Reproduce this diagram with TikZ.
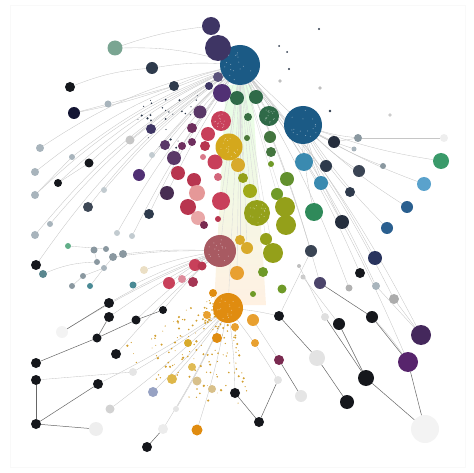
\documentclass[tikz,border=0pt]{standalone}
\usetikzlibrary{backgrounds}

\definecolor{inky}{HTML}{15171C}
\definecolor{navyP}{HTML}{3E3564}
\definecolor{purp}{HTML}{5A3868}
\definecolor{plum}{HTML}{6E2F5E}
\definecolor{crim}{HTML}{C8405A}
\definecolor{rose}{HTML}{B8354F}
\definecolor{pinkL}{HTML}{E59898}
\definecolor{mauve}{HTML}{A85A62}
\definecolor{gold}{HTML}{D4A81C}
\definecolor{mustard}{HTML}{D8AA2A}
\definecolor{olive}{HTML}{94A01A}
\definecolor{moss}{HTML}{6F9A28}
\definecolor{forest}{HTML}{2F6A48}
\definecolor{jade}{HTML}{2F8A5A}
\definecolor{mint}{HTML}{3A9A6A}
\definecolor{blueD}{HTML}{1B5A85}
\definecolor{blueM}{HTML}{3A8AB0}
\definecolor{blueL}{HTML}{5AA2CC}
\definecolor{blueN}{HTML}{2A5F8F}
\definecolor{slate}{HTML}{2E3A4C}
\definecolor{sage}{HTML}{7AA592}
\definecolor{fog}{HTML}{A8B4BC}
\definecolor{steel}{HTML}{8A98A0}
\definecolor{teal}{HTML}{4A8A95}
\definecolor{orng}{HTML}{E08C10}
\definecolor{amber}{HTML}{E8A030}
\definecolor{sand}{HTML}{D8C08A}
\definecolor{ghost}{HTML}{EEEEEE}
\definecolor{eggp}{HTML}{44285C}
\definecolor{wine}{HTML}{7A2A50}

\tikzset{
  dot/.style = {circle, inner sep = 0pt, outer sep = 0pt},
  link/.style = {draw = gray!45, line width = 0.35pt},
  bond/.style = {draw = black!60, line width = 0.5pt},
}

\begin{document}
\begin{tikzpicture}[x = 1pt, y = -1pt]
\useasboundingbox (0,0) rectangle (474,473);
\draw [gray!5, line width = 0.6pt] (10,5) rectangle (465,467);

% hubs
\node [dot, fill = blueD, minimum size = 40] (hub) at (240,65) {};
\node [dot, fill = blueD, minimum size = 38] (hubB) at (303,125) {};

% top
\node [dot, fill = navyP, minimum size = 18] (t1) at (211,26) {};
\node [dot, fill = navyP, minimum size = 26] (t2) at (218,48) {};
\node [dot, fill = sage, minimum size = 15] (t3) at (115,48) {};
\node [dot, fill = slate, minimum size = 12] (t4) at (152,68) {};
\node [dot, fill = inky, minimum size = 10] (t5) at (70,87) {};
\node [dot, fill = slate, minimum size = 10] (t6) at (174,86) {};
\node [dot, fill = fog, minimum size = 7] (t7) at (108,104) {};
\node [dot, fill = inky!90!blue, minimum size = 12] (t8) at (74,113) {};
\node [dot, fill = navyP!85!white, minimum size = 10] (t9) at (218,77) {};
\node [dot, fill = navyP, minimum size = 8] (t10) at (209,86) {};
\node [dot, fill = navyP!90!magenta, minimum size = 18] (t11) at (222,93) {};

% purples and reds
\node [dot, fill = purp, minimum size = 13] (c1) at (200,112) {};
\node [dot, fill = crim, minimum size = 20] (c2) at (221,121) {};
\node [dot, fill = plum, minimum size = 10] (c3) at (192,128) {};
\node [dot, fill = crim, minimum size = 14] (c4) at (208,134) {};
\node [dot, fill = purp, minimum size = 10] (c5) at (165,145) {};
\node [dot, fill = plum, minimum size = 8] (c6) at (182,146) {};
\node [dot, fill = plum, minimum size = 8] (c7) at (192,142) {};
\node [dot, fill = rose, minimum size = 10] (c8) at (205,146) {};
\node [dot, fill = gold, minimum size = 27] (c9) at (229,147) {};
\node [dot, fill = purp, minimum size = 14] (c10) at (174,158) {};
\node [dot, fill = crim, minimum size = 15] (c11) at (215,162) {};
\node [dot, fill = rose, minimum size = 14] (c12) at (178,173) {};
\node [dot, fill = rose, minimum size = 14] (c13) at (194,180) {};
\node [dot, fill = mustard, minimum size = 14] (c14) at (238,165) {};
\node [dot, fill = purp!80!black, minimum size = 14] (c15) at (167,193) {};
\node [dot, fill = pinkL, minimum size = 16] (c16) at (197,193) {};
\node [dot, fill = crim, minimum size = 18] (c17) at (221,201) {};
\node [dot, fill = rose, minimum size = 16] (c18) at (188,207) {};
\node [dot, fill = pinkL!85!white, minimum size = 14] (c19) at (198,218) {};
\node [dot, fill = wine, minimum size = 8] (c20) at (204,225) {};
\node [dot, fill = crim!80!white, minimum size = 8] (c21) at (218,177) {};
\node [dot, fill = crim!70!white, minimum size = 6] (c22) at (203,157) {};
\node [dot, fill = rose, minimum size = 6] (c23) at (218,219) {};

% left outer
\node [dot, fill = navyP, minimum size = 10] (l1) at (151,129) {};
\node [dot, fill = gray!45, minimum size = 9] (l2) at (130,140) {};
\node [dot, fill = fog, minimum size = 8] (l3) at (40,148) {};
\node [dot, fill = fog, minimum size = 6] (l4) at (72,157) {};
\node [dot, fill = fog!70!white, minimum size = 6] (l5) at (152,155) {};
\node [dot, fill = inky, minimum size = 9] (l6) at (89,163) {};
\node [dot, fill = fog, minimum size = 8] (l7) at (35,172) {};
\node [dot, fill = navyP!90!magenta, minimum size = 12] (l8) at (139,175) {};
\node [dot, fill = inky, minimum size = 8] (l9) at (58,183) {};
\node [dot, fill = fog, minimum size = 8] (l10) at (35,195) {};
\node [dot, fill = fog!70!white, minimum size = 6] (l11) at (104,190) {};
\node [dot, fill = slate!80!gray, minimum size = 10] (l12) at (88,207) {};
\node [dot, fill = slate, minimum size = 10] (l13) at (149,214) {};
\node [dot, fill = fog, minimum size = 6] (l14) at (50,224) {};
\node [dot, fill = fog, minimum size = 8] (l15) at (35,235) {};
\node [dot, fill = fog!70!white, minimum size = 6] (l16) at (117,233) {};
\node [dot, fill = fog!70!white, minimum size = 6] (l17) at (132,236) {};

% greens and olives
\node [dot, fill = forest, minimum size = 14] (g1) at (237,98) {};
\node [dot, fill = forest, minimum size = 14] (g2) at (256,97) {};
\node [dot, fill = forest, minimum size = 20] (g3) at (269,116) {};
\node [dot, fill = forest!90!olive, minimum size = 8] (g4) at (248,117) {};
\node [dot, fill = forest!80!olive, minimum size = 12] (g5) at (270,137) {};
\node [dot, fill = forest!70!olive, minimum size = 6] (g6) at (247,138) {};
\node [dot, fill = forest!80!olive, minimum size = 10] (g7) at (271,152) {};
\node [dot, fill = moss, minimum size = 6] (g8) at (271,164) {};
\node [dot, fill = moss!80!forest, minimum size = 14] (g9) at (287,179) {};
\node [dot, fill = olive, minimum size = 10] (g10) at (243,178) {};
\node [dot, fill = olive!90!yellow, minimum size = 14] (g11) at (250,191) {};
\node [dot, fill = moss, minimum size = 12] (g12) at (277,194) {};
\node [dot, fill = olive, minimum size = 20] (g13) at (285,207) {};
\node [dot, fill = olive, minimum size = 26] (g14) at (257,213) {};
\node [dot, fill = olive, minimum size = 20] (g15) at (286,225) {};
\node [dot, fill = jade, minimum size = 18] (g16) at (314,212) {};

% right
\node [dot, fill = slate!80!black, minimum size = 12] (r1) at (334,142) {};
\node [dot, fill = steel, minimum size = 8] (r2) at (358,138) {};
\node [dot, fill = fog, minimum size = 5] (r3) at (354,149) {};
\node [dot, fill = ghost, minimum size = 8] (r4) at (444,138) {};
\node [dot, fill = blueM, minimum size = 18] (r5) at (304,162) {};
\node [dot, fill = slate, minimum size = 12] (r6) at (326,166) {};
\node [dot, fill = slate!85!gray, minimum size = 12] (r7) at (359,171) {};
\node [dot, fill = steel, minimum size = 6] (r8) at (383,166) {};
\node [dot, fill = mint, minimum size = 16] (r9) at (441,161) {};
\node [dot, fill = blueM, minimum size = 14] (r10) at (321,183) {};
\node [dot, fill = slate, minimum size = 10] (r11) at (350,192) {};
\node [dot, fill = blueL, minimum size = 14] (r12) at (424,184) {};
\node [dot, fill = blueN, minimum size = 12] (r13) at (407,207) {};
\node [dot, fill = slate!80!black, minimum size = 14] (r14) at (342,222) {};
\node [dot, fill = blueN, minimum size = 12] (r15) at (387,228) {};

% middle
\node [dot, fill = mauve, minimum size = 32] (m1) at (220,251) {};
\node [dot, fill = mustard, minimum size = 10] (m2) at (240,240) {};
\node [dot, fill = mustard, minimum size = 12] (m3) at (247,248) {};
\node [dot, fill = olive, minimum size = 12] (m4) at (266,239) {};
\node [dot, fill = olive, minimum size = 20] (m5) at (273,253) {};
\node [dot, fill = crim, minimum size = 12] (m6) at (195,265) {};
\node [dot, fill = rose, minimum size = 9] (m7) at (202,266) {};
\node [dot, fill = amber, minimum size = 14] (m8) at (237,273) {};
\node [dot, fill = moss, minimum size = 10] (m9) at (263,272) {};
\node [dot, fill = crim, minimum size = 12] (m10) at (169,283) {};
\node [dot, fill = crim!60!white, minimum size = 8] (m11) at (182,279) {};
\node [dot, fill = rose!80!purp, minimum size = 10] (m12) at (193,282) {};
\node [dot, fill = moss, minimum size = 9] (m13) at (282,289) {};
\node [dot, fill = moss, minimum size = 6] (m14) at (253,294) {};
\node [dot, fill = orng, minimum size = 8] (m15) at (213,293) {};
\node [dot, fill = orng, minimum size = 30] (m16) at (228,308) {};
\node [dot, fill = amber, minimum size = 8] (m17) at (207,315) {};
\node [dot, fill = amber, minimum size = 12] (m18) at (253,320) {};
\node [dot, fill = amber, minimum size = 8] (m19) at (235,327) {};
\node [dot, fill = orng, minimum size = 10] (m20) at (217,338) {};
\node [dot, fill = amber, minimum size = 8] (m21) at (255,343) {};
\node [dot, fill = mustard, minimum size = 8] (m22) at (188,343) {};
\node [dot, fill = mustard!80!white, minimum size = 8] (m23) at (192,367) {};
\node [dot, fill = mustard!85!white, minimum size = 10] (m24) at (172,379) {};
\node [dot, fill = sand, minimum size = 9] (m25) at (197,381) {};
\node [dot, fill = sand, minimum size = 8] (m26) at (212,389) {};
\node [dot, fill = orng, minimum size = 11] (m27) at (197,430) {};
\node [dot, fill = sand!50!white, minimum size = 8] (m28) at (144,270) {};

% lower left
\node [dot, fill = inky, minimum size = 10] (k1) at (36,265) {};
\node [dot, fill = teal!70!gray, minimum size = 8] (k2) at (43,274) {};
\node [dot, fill = mint!80!white, minimum size = 6] (k3) at (68,246) {};
\node [dot, fill = steel, minimum size = 7] (k4) at (94,250) {};
\node [dot, fill = steel, minimum size = 6] (k5) at (106,249) {};
\node [dot, fill = steel, minimum size = 6] (k6) at (97,262) {};
\node [dot, fill = steel, minimum size = 8] (k7) at (113,257) {};
\node [dot, fill = steel, minimum size = 8] (k8) at (123,254) {};
\node [dot, fill = fog, minimum size = 6] (k9) at (104,268) {};
\node [dot, fill = steel, minimum size = 6] (k10) at (83,276) {};
\node [dot, fill = steel, minimum size = 6] (k11) at (72,286) {};
\node [dot, fill = teal, minimum size = 6] (k12) at (90,286) {};
\node [dot, fill = teal, minimum size = 7] (k13) at (133,285) {};
\node [dot, fill = inky, minimum size = 10] (b1) at (109,303) {};
\node [dot, fill = inky, minimum size = 10] (b2) at (109,317) {};
\node [dot, fill = inky, minimum size = 8] (b3) at (163,310) {};
\node [dot, fill = inky, minimum size = 9] (b4) at (136,320) {};
\node [dot, fill = inky, minimum size = 9] (b5) at (97,338) {};
\node [dot, fill = inky, minimum size = 10] (b6) at (116,354) {};
\node [dot, fill = inky, minimum size = 10] (b7) at (36,363) {};
\node [dot, fill = inky, minimum size = 10] (b8) at (36,380) {};
\node [dot, fill = inky, minimum size = 10] (b9) at (98,384) {};
\node [dot, fill = inky, minimum size = 10] (b10) at (36,424) {};
\node [dot, fill = inky, minimum size = 10] (b11) at (147,447) {};
\node [dot, fill = inky, minimum size = 10] (b12) at (235,393) {};
\node [dot, fill = ghost!70!white, minimum size = 12] (f1) at (62,332) {};
\node [dot, fill = gray!20, minimum size = 8] (f2) at (133,372) {};
\node [dot, fill = fog!90!blue, minimum size = 10] (f3) at (153,392) {};
\node [dot, fill = gray!35, minimum size = 9] (f4) at (110,409) {};
\node [dot, fill = ghost, minimum size = 14] (f5) at (96,429) {};
\node [dot, fill = gray!15, minimum size = 10] (f6) at (163,429) {};
\node [dot, fill = gray!20, minimum size = 6] (f7) at (176,409) {};

% lower right
\node [dot, fill = slate!85!gray, minimum size = 12] (d1) at (311,251) {};
\node [dot, fill = slate!90!blue, minimum size = 14] (d2) at (375,258) {};
\node [dot, fill = inky, minimum size = 10] (d3) at (360,273) {};
\node [dot, fill = fog, minimum size = 8] (d4) at (376,286) {};
\node [dot, fill = gray!65, minimum size = 10] (d5) at (394,299) {};
\node [dot, fill = navyP!80!gray, minimum size = 12] (d6) at (320,283) {};
\node [dot, fill = gray!60, minimum size = 7] (d7) at (349,288) {};
\node [dot, fill = gray!50, minimum size = 4] (d8) at (299,266) {};
\node [dot, fill = gray!40, minimum size = 5] (d9) at (303,277) {};
\node [dot, fill = inky, minimum size = 10] (d10) at (279,316) {};
\node [dot, fill = gray!25, minimum size = 8] (d11) at (325,317) {};
\node [dot, fill = inky, minimum size = 12] (d12) at (339,324) {};
\node [dot, fill = inky, minimum size = 12] (d13) at (372,317) {};
\node [dot, fill = eggp, minimum size = 20] (d14) at (421,335) {};
\node [dot, fill = eggp!90!magenta, minimum size = 20] (d15) at (408,362) {};
\node [dot, fill = wine, minimum size = 10] (d16) at (279,360) {};
\node [dot, fill = ghost!90!gray, minimum size = 16] (d17) at (317,358) {};
\node [dot, fill = inky, minimum size = 16] (d18) at (366,378) {};
\node [dot, fill = ghost!90!gray, minimum size = 8] (d19) at (278,380) {};
\node [dot, fill = gray!20, minimum size = 12] (d20) at (301,396) {};
\node [dot, fill = inky, minimum size = 14] (d21) at (347,402) {};
\node [dot, fill = inky, minimum size = 10] (d22) at (259,422) {};
\node [dot, fill = ghost!70!white, minimum size = 28] (d23) at (425,429) {};

% speckles on the large nodes
\pgfmathsetseed{5}
\foreach \n/\rr in {hub/16, hubB/15, m1/12, m16/12, g14/10, c9/10, g3/7, c2/7} {
  \foreach \i in {1,...,16} {
    \pgfmathsetmacro{\ang}{360*rnd}
    \pgfmathsetmacro{\rad}{\rr*sqrt(rnd)}
    \fill [white, opacity = 0.5] ([shift = {(\ang:\rad)}] \n.center) circle (0.5);
  }
}

\begin{scope}[on background layer]
% pale band below the hub
\shade [top color = green!12, middle color = yellow!14, bottom color = orange!14, opacity = 0.8]
  (226,85) -- (252,85) -- (266,305) -- (214,305) -- cycle;

% fan to the left
\foreach \n/\b in {t3/8, t4/6, t6/4, l1/4, l2/5, l3/10, l4/8, l5/4, l6/8, l7/10, l8/5, l9/9, l10/10, l11/6, l12/8, l13/5, l14/9, l15/10, l16/6, l17/5, k1/10, c5/3, c10/3, c15/3}
  \draw [link] (hub) to [bend right = \b] (\n);
\draw [link] (t1) to [bend right = 6] (t3);
\draw [link] (t1) -- (t2);
\draw [link] (t5) to [bend left = 8] (t4);
\draw [link] (t8) -- (t7);
\draw [link] (t7) -- (t6);
\draw [link] (t8) to [bend right = 4] (t6);
\draw [link] (l9) -- (l6);
\draw [link] (l10) -- (l4);

% fan down the band
\foreach \n in {c9, c14, g10, g11, g14, m1, m2, m3, m8, m16, m5, m4, c17, g13, g15, g1, g2, g3, c2, t11}
  \draw [link, gray!30] (hub) -- (\n);

% fan to the right
\draw [link] (hub) -- (hubB);
\foreach \n in {r1, r2, r3, r5, r6, r7, r8, r9, r10, r11, r12, r13, r14, r15, g16}
  \draw [link] (hubB) to [bend right = 5] (\n);
\draw [link] (r2) -- (r4);
\draw [link] (r1) -- (r2);
\foreach \n/\b in {d1/4, d2/6, d3/6, d4/6, d5/6, d6/4, d7/5, d14/6, d15/6}
  \draw [link] (hub) to [bend left = \b] (\n);

% fan to the lower left
\foreach \n in {b1, b2, b3, b4, b6, k13, k8, k7, m10, m28, f1}
  \draw [link] (m1) to [bend right = 4] (\n);
\foreach \n in {d10, m27, b12, d19, f3, f4, f6, f7, b9, m24, f2}
  \draw [link] (m16) to [bend left = 3] (\n);
\draw [link] (k2) to [bend left = 10] (k6);
\draw [link] (k6) -- (k4);
\draw [link] (k9) -- (k7);
\draw [link] (k11) -- (k10);
\draw [link] (k10) -- (k9);
\draw [link] (k12) -- (k9);
\draw [link] (k3) -- (k5);

% dark bonds
\draw [bond] (b7) -- (b5);
\draw [bond] (b5) -- (b2);
\draw [bond] (b5) -- (b4);
\draw [bond] (b4) -- (b3);
\draw [bond] (b1) -- (f1);
\draw [bond] (b8) -- (b10);
\draw [bond] (b10) -- (b9);
\draw [bond] (b10) -- (f5);
\draw [bond] (b11) -- (f6);
\draw [link] (b8) -- (f2);
\draw [bond] (d6) -- (d13);
\draw [bond] (d10) -- (d17);
\draw [bond] (d17) -- (d21);
\draw [bond] (d11) -- (d18);
\draw [bond] (d12) -- (d18);
\draw [bond] (d18) -- (d23);
\draw [bond] (d13) -- (d15);
\draw [link] (d13) to [bend left = 4] (d15);
\draw [bond] (d15) -- (d23);
\draw [link] (d5) -- (d14);
\draw [link] (d4) -- (d14);
\draw [bond] (d16) -- (d20);
\draw [link] (m18) -- (d16);
\draw [bond] (d19) -- (d22);
\draw [bond] (b12) -- (d22);
\draw [link] (d1) -- (d10);
\draw [link] (d9) -- (d12);
\draw [link] (d8) -- (d11);

% dust in the lower fan
\pgfmathsetseed{11}
\foreach \i in {1,...,170} {
  \pgfmathsetmacro{\ang}{80 + 70*rnd}
  \pgfmathsetmacro{\rad}{20 + 100*rnd}
  \pgfmathsetmacro{\sz}{0.4 + 0.9*rnd}
  \fill [mustard!75!brown] ({228 + \rad*cos(\ang)}, {285 + \rad*sin(\ang)}) circle (\sz);
}
% dark specks in the upper fan
\foreach \i in {1,...,30} {
  \pgfmathsetmacro{\ang}{125 + 40*rnd}
  \pgfmathsetmacro{\rad}{30 + 70*rnd}
  \pgfmathsetmacro{\sz}{0.4 + 0.8*rnd}
  \fill [slate] ({225 + \rad*cos(\ang)}, {80 + \rad*sin(\ang)}) circle (\sz);
}
\fill [slate] (319,29) circle (1.2);
\fill [slate] (287,52) circle (1);
\fill [slate] (289,69) circle (1.2);
\fill [gray!50] (280,81) circle (1.8);
\fill [gray!50] (320,88) circle (1.8);
\fill [slate] (330,111) circle (1.3);
\fill [gray!40] (390,115) circle (1.8);
\fill [slate] (279,46) circle (1);
\end{scope}
\end{tikzpicture}
\end{document}
